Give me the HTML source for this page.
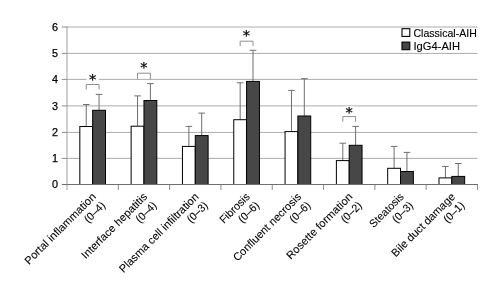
<!DOCTYPE html>
<html><head><meta charset="utf-8"><style>
html,body{margin:0;padding:0;background:#fff;}
svg{display:block;}
text{font-family:'Liberation Sans', Arial, sans-serif;fill:#000;}
</style></head><body>
<svg width="499" height="297" viewBox="0 0 499 297">
<rect width="499" height="297" fill="#fff"/>

<line x1="67.0" y1="26.50" x2="67.0" y2="189.9" stroke="#c0c0c0" stroke-width="1.5"/>
<line x1="67.8" y1="158.40" x2="477.48" y2="158.40" stroke="#acacac" stroke-width="1"/>
<line x1="61.8" y1="158.40" x2="67.6" y2="158.40" stroke="#8c8c8c" stroke-width="1"/>
<line x1="67.8" y1="132.40" x2="477.48" y2="132.40" stroke="#acacac" stroke-width="1"/>
<line x1="61.8" y1="132.40" x2="67.6" y2="132.40" stroke="#8c8c8c" stroke-width="1"/>
<line x1="67.8" y1="105.90" x2="477.48" y2="105.90" stroke="#acacac" stroke-width="1"/>
<line x1="61.8" y1="105.90" x2="67.6" y2="105.90" stroke="#8c8c8c" stroke-width="1"/>
<line x1="67.8" y1="79.40" x2="477.48" y2="79.40" stroke="#acacac" stroke-width="1"/>
<line x1="61.8" y1="79.40" x2="67.6" y2="79.40" stroke="#8c8c8c" stroke-width="1"/>
<line x1="67.8" y1="53.40" x2="477.48" y2="53.40" stroke="#acacac" stroke-width="1"/>
<line x1="61.8" y1="53.40" x2="67.6" y2="53.40" stroke="#8c8c8c" stroke-width="1"/>
<line x1="67.8" y1="27.00" x2="477.48" y2="27.00" stroke="#acacac" stroke-width="1"/>
<line x1="61.8" y1="27.00" x2="67.6" y2="27.00" stroke="#8c8c8c" stroke-width="1"/>
<text x="57.9" y="188.40" font-size="10.8" text-anchor="end" stroke="#000" stroke-width="0.25">0</text>
<text x="57.9" y="162.30" font-size="10.8" text-anchor="end" stroke="#000" stroke-width="0.25">1</text>
<text x="57.9" y="136.30" font-size="10.8" text-anchor="end" stroke="#000" stroke-width="0.25">2</text>
<text x="57.9" y="109.80" font-size="10.8" text-anchor="end" stroke="#000" stroke-width="0.25">3</text>
<text x="57.9" y="83.30" font-size="10.8" text-anchor="end" stroke="#000" stroke-width="0.25">4</text>
<text x="57.9" y="57.30" font-size="10.8" text-anchor="end" stroke="#000" stroke-width="0.25">5</text>
<text x="57.9" y="30.90" font-size="10.8" text-anchor="end" stroke="#000" stroke-width="0.25">6</text>
<line x1="118.31" y1="184.50" x2="118.31" y2="189.9" stroke="#8a8a8a" stroke-width="1"/>
<line x1="169.62" y1="184.50" x2="169.62" y2="189.9" stroke="#8a8a8a" stroke-width="1"/>
<line x1="220.93" y1="184.50" x2="220.93" y2="189.9" stroke="#8a8a8a" stroke-width="1"/>
<line x1="272.24" y1="184.50" x2="272.24" y2="189.9" stroke="#8a8a8a" stroke-width="1"/>
<line x1="323.55" y1="184.50" x2="323.55" y2="189.9" stroke="#8a8a8a" stroke-width="1"/>
<line x1="374.86" y1="184.50" x2="374.86" y2="189.9" stroke="#8a8a8a" stroke-width="1"/>
<line x1="426.17" y1="184.50" x2="426.17" y2="189.9" stroke="#8a8a8a" stroke-width="1"/>
<line x1="477.48" y1="184.50" x2="477.48" y2="189.9" stroke="#8a8a8a" stroke-width="1"/>
<line x1="86.24" y1="126.50" x2="86.24" y2="104.50" stroke="#6e6e6e" stroke-width="1"/>
<line x1="82.94" y1="104.50" x2="89.54" y2="104.50" stroke="#6e6e6e" stroke-width="1"/>
<line x1="99.07" y1="110.30" x2="99.07" y2="94.40" stroke="#6e6e6e" stroke-width="1"/>
<line x1="95.77" y1="94.40" x2="102.37" y2="94.40" stroke="#6e6e6e" stroke-width="1"/>
<rect x="79.83" y="126.50" width="12.83" height="58.00" fill="#fff" stroke="#000" stroke-width="1"/>
<rect x="92.66" y="110.30" width="12.83" height="74.20" fill="#474747" stroke="#000" stroke-width="1"/>
<line x1="137.55" y1="126.20" x2="137.55" y2="95.90" stroke="#6e6e6e" stroke-width="1"/>
<line x1="134.25" y1="95.90" x2="140.85" y2="95.90" stroke="#6e6e6e" stroke-width="1"/>
<line x1="150.38" y1="100.50" x2="150.38" y2="83.60" stroke="#6e6e6e" stroke-width="1"/>
<line x1="147.08" y1="83.60" x2="153.68" y2="83.60" stroke="#6e6e6e" stroke-width="1"/>
<rect x="131.14" y="126.20" width="12.83" height="58.30" fill="#fff" stroke="#000" stroke-width="1"/>
<rect x="143.97" y="100.50" width="12.83" height="84.00" fill="#474747" stroke="#000" stroke-width="1"/>
<line x1="188.86" y1="146.40" x2="188.86" y2="126.40" stroke="#6e6e6e" stroke-width="1"/>
<line x1="185.56" y1="126.40" x2="192.16" y2="126.40" stroke="#6e6e6e" stroke-width="1"/>
<line x1="201.69" y1="135.60" x2="201.69" y2="113.10" stroke="#6e6e6e" stroke-width="1"/>
<line x1="198.39" y1="113.10" x2="204.99" y2="113.10" stroke="#6e6e6e" stroke-width="1"/>
<rect x="182.45" y="146.40" width="12.83" height="38.10" fill="#fff" stroke="#000" stroke-width="1"/>
<rect x="195.28" y="135.60" width="12.83" height="48.90" fill="#474747" stroke="#000" stroke-width="1"/>
<line x1="240.17" y1="119.70" x2="240.17" y2="82.80" stroke="#6e6e6e" stroke-width="1"/>
<line x1="236.87" y1="82.80" x2="243.47" y2="82.80" stroke="#6e6e6e" stroke-width="1"/>
<line x1="253.00" y1="81.40" x2="253.00" y2="50.30" stroke="#6e6e6e" stroke-width="1"/>
<line x1="249.70" y1="50.30" x2="256.30" y2="50.30" stroke="#6e6e6e" stroke-width="1"/>
<rect x="233.76" y="119.70" width="12.83" height="64.80" fill="#fff" stroke="#000" stroke-width="1"/>
<rect x="246.59" y="81.40" width="12.83" height="103.10" fill="#474747" stroke="#000" stroke-width="1"/>
<line x1="291.48" y1="131.60" x2="291.48" y2="90.40" stroke="#6e6e6e" stroke-width="1"/>
<line x1="288.18" y1="90.40" x2="294.78" y2="90.40" stroke="#6e6e6e" stroke-width="1"/>
<line x1="304.31" y1="116.00" x2="304.31" y2="78.70" stroke="#6e6e6e" stroke-width="1"/>
<line x1="301.01" y1="78.70" x2="307.61" y2="78.70" stroke="#6e6e6e" stroke-width="1"/>
<rect x="285.07" y="131.60" width="12.83" height="52.90" fill="#fff" stroke="#000" stroke-width="1"/>
<rect x="297.89" y="116.00" width="12.83" height="68.50" fill="#474747" stroke="#000" stroke-width="1"/>
<line x1="342.79" y1="160.60" x2="342.79" y2="143.20" stroke="#6e6e6e" stroke-width="1"/>
<line x1="339.49" y1="143.20" x2="346.09" y2="143.20" stroke="#6e6e6e" stroke-width="1"/>
<line x1="355.62" y1="145.30" x2="355.62" y2="126.40" stroke="#6e6e6e" stroke-width="1"/>
<line x1="352.32" y1="126.40" x2="358.92" y2="126.40" stroke="#6e6e6e" stroke-width="1"/>
<rect x="336.38" y="160.60" width="12.83" height="23.90" fill="#fff" stroke="#000" stroke-width="1"/>
<rect x="349.21" y="145.30" width="12.83" height="39.20" fill="#474747" stroke="#000" stroke-width="1"/>
<line x1="394.10" y1="168.30" x2="394.10" y2="146.40" stroke="#6e6e6e" stroke-width="1"/>
<line x1="390.80" y1="146.40" x2="397.40" y2="146.40" stroke="#6e6e6e" stroke-width="1"/>
<line x1="406.93" y1="171.50" x2="406.93" y2="152.40" stroke="#6e6e6e" stroke-width="1"/>
<line x1="403.63" y1="152.40" x2="410.23" y2="152.40" stroke="#6e6e6e" stroke-width="1"/>
<rect x="387.69" y="168.30" width="12.83" height="16.20" fill="#fff" stroke="#000" stroke-width="1"/>
<rect x="400.51" y="171.50" width="12.83" height="13.00" fill="#474747" stroke="#000" stroke-width="1"/>
<line x1="445.41" y1="177.90" x2="445.41" y2="166.40" stroke="#6e6e6e" stroke-width="1"/>
<line x1="442.11" y1="166.40" x2="448.71" y2="166.40" stroke="#6e6e6e" stroke-width="1"/>
<line x1="458.24" y1="176.40" x2="458.24" y2="163.50" stroke="#6e6e6e" stroke-width="1"/>
<line x1="454.94" y1="163.50" x2="461.54" y2="163.50" stroke="#6e6e6e" stroke-width="1"/>
<rect x="439.00" y="177.90" width="12.83" height="6.60" fill="#fff" stroke="#000" stroke-width="1"/>
<rect x="451.83" y="176.40" width="12.83" height="8.10" fill="#474747" stroke="#000" stroke-width="1"/>
<line x1="61.8" y1="184.50" x2="477.98" y2="184.50" stroke="#707070" stroke-width="1"/>
<polyline points="86.24,89.60 86.24,84.50 99.07,84.50 99.07,89.60" fill="none" stroke="#8f8f8f" stroke-width="1"/>
<rect x="86.45" y="73.50" width="12.4" height="7.6" fill="#fff"/>
<text x="92.56" y="83.90" style="font-family:'DejaVu Sans',sans-serif" font-size="14.5" text-anchor="middle" stroke="#000" stroke-width="0.25">*</text>
<polyline points="137.55,79.20 137.55,73.20 150.38,73.20 150.38,79.20" fill="none" stroke="#8f8f8f" stroke-width="1"/>
<rect x="137.77" y="61.50" width="12.4" height="7.6" fill="#fff"/>
<text x="143.87" y="71.90" style="font-family:'DejaVu Sans',sans-serif" font-size="14.5" text-anchor="middle" stroke="#000" stroke-width="0.25">*</text>
<polyline points="240.17,46.10 240.17,41.20 253.00,41.20 253.00,46.10" fill="none" stroke="#8f8f8f" stroke-width="1"/>
<rect x="240.39" y="29.80" width="12.4" height="7.6" fill="#fff"/>
<text x="246.49" y="40.20" style="font-family:'DejaVu Sans',sans-serif" font-size="14.5" text-anchor="middle" stroke="#000" stroke-width="0.25">*</text>
<polyline points="342.79,121.80 342.79,116.60 355.62,116.60 355.62,121.80" fill="none" stroke="#8f8f8f" stroke-width="1"/>
<rect x="343.01" y="106.60" width="12.4" height="7.6" fill="#fff"/>
<text x="349.11" y="117.00" style="font-family:'DejaVu Sans',sans-serif" font-size="14.5" text-anchor="middle" stroke="#000" stroke-width="0.25">*</text>
<rect x="402.0" y="28.7" width="7.8" height="7.7" fill="#fff" stroke="#000" stroke-width="1.1"/>
<rect x="402.0" y="42.1" width="7.8" height="7.6" fill="#474747" stroke="#000" stroke-width="1.1"/>
<text x="413.5" y="36.8" font-size="11" textLength="63.3" lengthAdjust="spacingAndGlyphs" stroke="#000" stroke-width="0.12">Classical-AIH</text>
<text x="413.5" y="49.9" font-size="11" textLength="46.5" lengthAdjust="spacingAndGlyphs" stroke="#000" stroke-width="0.12">IgG4-AIH</text>
<g transform="translate(96.66,197.40) rotate(-45)"><text x="0" y="0" font-size="11" text-anchor="end" textLength="95.8" lengthAdjust="spacingAndGlyphs" stroke="#000" stroke-width="0.08">Portal inflammation</text><text x="0.5" y="12.7" font-size="11" text-anchor="end" textLength="24.6" lengthAdjust="spacingAndGlyphs" stroke="#000" stroke-width="0.08">(0–4)</text></g>
<g transform="translate(147.97,197.40) rotate(-45)"><text x="0" y="0" font-size="11" text-anchor="end" textLength="87.9" lengthAdjust="spacingAndGlyphs" stroke="#000" stroke-width="0.08">Interface hepatitis</text><text x="0.5" y="12.7" font-size="11" text-anchor="end" textLength="24.6" lengthAdjust="spacingAndGlyphs" stroke="#000" stroke-width="0.08">(0–4)</text></g>
<g transform="translate(199.28,197.40) rotate(-45)"><text x="0" y="0" font-size="11" text-anchor="end" textLength="107.3" lengthAdjust="spacingAndGlyphs" stroke="#000" stroke-width="0.08">Plasma cell infiltration</text><text x="0.5" y="12.7" font-size="11" text-anchor="end" textLength="24.6" lengthAdjust="spacingAndGlyphs" stroke="#000" stroke-width="0.08">(0–3)</text></g>
<g transform="translate(250.59,197.40) rotate(-45)"><text x="0" y="0" font-size="11" text-anchor="end" textLength="37.7" lengthAdjust="spacingAndGlyphs" stroke="#000" stroke-width="0.08">Fibrosis</text><text x="0.5" y="12.7" font-size="11" text-anchor="end" textLength="24.6" lengthAdjust="spacingAndGlyphs" stroke="#000" stroke-width="0.08">(0–6)</text></g>
<g transform="translate(301.89,197.40) rotate(-45)"><text x="0" y="0" font-size="11" text-anchor="end" textLength="91.1" lengthAdjust="spacingAndGlyphs" stroke="#000" stroke-width="0.08">Confluent necrosis</text><text x="0.5" y="12.7" font-size="11" text-anchor="end" textLength="24.6" lengthAdjust="spacingAndGlyphs" stroke="#000" stroke-width="0.08">(0–6)</text></g>
<g transform="translate(353.21,197.40) rotate(-45)"><text x="0" y="0" font-size="11" text-anchor="end" textLength="88.5" lengthAdjust="spacingAndGlyphs" stroke="#000" stroke-width="0.08">Rosette formation</text><text x="0.5" y="12.7" font-size="11" text-anchor="end" textLength="24.6" lengthAdjust="spacingAndGlyphs" stroke="#000" stroke-width="0.08">(0–2)</text></g>
<g transform="translate(404.51,197.40) rotate(-45)"><text x="0" y="0" font-size="11" text-anchor="end" textLength="43.5" lengthAdjust="spacingAndGlyphs" stroke="#000" stroke-width="0.08">Steatosis</text><text x="0.5" y="12.7" font-size="11" text-anchor="end" textLength="24.6" lengthAdjust="spacingAndGlyphs" stroke="#000" stroke-width="0.08">(0–3)</text></g>
<g transform="translate(455.83,197.40) rotate(-45)"><text x="0" y="0" font-size="11" text-anchor="end" textLength="85.0" lengthAdjust="spacingAndGlyphs" stroke="#000" stroke-width="0.08">Bile duct damage</text><text x="0.5" y="12.7" font-size="11" text-anchor="end" textLength="24.6" lengthAdjust="spacingAndGlyphs" stroke="#000" stroke-width="0.08">(0–1)</text></g>
</svg></body></html>
